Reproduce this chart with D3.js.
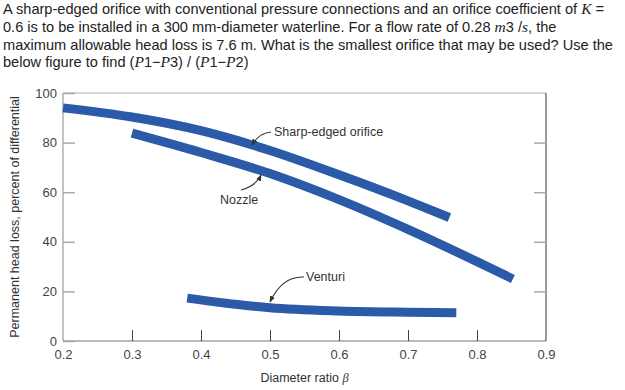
<!DOCTYPE html>
<html><head><meta charset="utf-8">
<script src="https://cdn.jsdelivr.net/npm/d3@7"></script>
<style>
body{margin:0;background:#fff;}
svg{display:block;font-family:"Liberation Sans",Arial,sans-serif;}
</style></head>
<body><svg id="c" width="625" height="390"></svg>
<script>
// ---- data ----
const xTicks = [0.2,0.3,0.4,0.5,0.6,0.7,0.8,0.9];
const xTickLabels = ["0.2","0.3","0.4","0.5","0.6","0.7","0.8","0.9"];
const yTicks = [0,20,40,60,80,100];
const sharpBeta = [0.2,0.3,0.4,0.5,0.6,0.7,0.76];
const sharpLoss = [94,90.3,84.8,76.8,67,56.5,49.8];
const nozzleBeta = [0.3,0.4,0.5,0.6,0.7,0.8,0.852];
const nozzleLoss = [83.8,76,67.5,57,45,32,25];
const venturiBeta = [0.38,0.45,0.5,0.6,0.7,0.77];
const venturiLoss = [17.3,14.8,13.4,12.1,11.6,11.4];

const svg = d3.select("#c");
const x = d3.scaleLinear().domain([0.2,0.9]).range([63,546]);
const y = d3.scaleLinear().domain([0,100]).range([341,93]);

// title text
const lines = [
  [["A sharp-edged orifice with conventional pressure connections and an orifice coefficient of ",0],["K",1],[" =",0]],
  [["0.6 is to be installed in a 300 mm-diameter waterline. For a flow rate of 0.28 ",0],["m",1],["3 /",0],["s",1],[", the",0]],
  [["maximum allowable head loss is 7.6 m. What is the smallest orifice that may be used? Use the",0]],
  [["below figure to find (",0],["P",1],["1−",0],["P",1],["3) / (",0],["P",1],["1−",0],["P",1],["2)",0]]
];
lines.forEach((ln,i)=>{
  const t = svg.append("text").attr("x",3).attr("y",14+i*17.8).attr("font-size",14.6).attr("fill","#222");
  ln.forEach(([s,it])=>{
    const ts = t.append("tspan").text(s);
    if(it) ts.attr("font-family","'Liberation Serif','DejaVu Serif',serif").attr("font-style","italic").attr("font-size",15.5);
  });
});

// frame lines
svg.append("line").attr("x1",x(0.2)).attr("x2",x(0.9)).attr("y1",y(100)).attr("y2",y(100)).attr("stroke","#aaa").attr("stroke-width",1);
svg.append("line").attr("x1",x(0.2)).attr("x2",x(0.2)).attr("y1",y(100)).attr("y2",y(0)).attr("stroke","#888").attr("stroke-width",1);
svg.append("line").attr("x1",x(0.2)).attr("x2",x(0.9)).attr("y1",y(0)).attr("y2",y(0)).attr("stroke","#777").attr("stroke-width",1);
svg.append("line").attr("x1",x(0.9)).attr("x2",x(0.9)).attr("y1",y(100)).attr("y2",y(0)).attr("stroke","#555").attr("stroke-width",1.2);

// axes
const gl = svg.append("g").attr("transform",`translate(${x(0.2)},0)`)
  .call(d3.axisLeft(y).tickValues(yTicks).tickSizeInner(-12).tickSizeOuter(0).tickPadding(6).tickFormat(d3.format("d")));
gl.select(".domain").remove();
gl.selectAll(".tick line").attr("stroke","#aaa").attr("stroke-width",1.5);
gl.selectAll(".tick text").attr("font-size",13).attr("fill","#444").attr("font-family","'Liberation Sans',Arial,sans-serif");

const gr = svg.append("g").attr("transform",`translate(${x(0.9)},0)`)
  .call(d3.axisRight(y).tickValues([20,40,60,80]).tickSizeInner(-12).tickSizeOuter(0).tickFormat(""));
gr.select(".domain").remove();
gr.selectAll(".tick line").attr("stroke","#aaa").attr("stroke-width",1.5);

const gb = svg.append("g").attr("transform",`translate(0,${y(0)})`)
  .call(d3.axisBottom(x).tickValues(xTicks).tickSizeInner(-11).tickSizeOuter(0).tickPadding(9).tickFormat((d,i)=>xTickLabels[i]));
gb.select(".domain").remove();
gb.selectAll(".tick line").attr("stroke","#444").attr("stroke-width",1);
gb.selectAll(".tick").filter(d=>d===0.2||d===0.9).select("line").remove();
gb.selectAll(".tick text").attr("font-size",13).attr("fill","#444").attr("font-family","'Liberation Sans',Arial,sans-serif");

// curves
const blue = "#2a5aa8";
const line = d3.line().x(d=>x(d[0])).y(d=>y(d[1])).curve(d3.curveMonotoneX);
function curve(bs,ls){
  svg.append("path").attr("d",line(bs.map((b,i)=>[b,ls[i]])))
    .attr("fill","none").attr("stroke",blue).attr("stroke-width",9).attr("stroke-linecap","butt");
}
curve(sharpBeta,sharpLoss);
curve(nozzleBeta,nozzleLoss);
curve(venturiBeta,venturiLoss);

// arrow marker
svg.append("defs").append("marker").attr("id","ah").attr("viewBox","0 0 10 10").attr("refX",9).attr("refY",5)
  .attr("markerWidth",6).attr("markerHeight",6).attr("orient","auto")
  .append("path").attr("d","M0,1 L10,5 L0,9 z").attr("fill","#333");

function leader(x0,y0,cx,cy,x1,y1){
  const p = d3.path(); p.moveTo(x0,y0); p.quadraticCurveTo(cx,cy,x1,y1);
  svg.append("path").attr("d",p.toString()).attr("fill","none").attr("stroke","#333").attr("stroke-width",1.1).attr("marker-end","url(#ah)");
}
// labels
svg.append("text").attr("x",274).attr("y",135.5).attr("font-size",12.5).attr("fill","#333").text("Sharp-edged orifice");
leader(271,132, 259,133, 252,145);
svg.append("text").attr("x",220).attr("y",204).attr("font-size",12.5).attr("fill","#333").text("Nozzle");
leader(241,190, 256,186, 261,175);
svg.append("text").attr("x",306).attr("y",281).attr("font-size",12.5).attr("fill","#333").text("Venturi");
leader(304,277, 282,276, 270,302);

// axis titles
svg.append("text").attr("transform",`translate(19,${y(50)}) rotate(-90)`).attr("text-anchor","middle")
  .attr("font-size",12.5).attr("fill","#333").text("Permanent head loss, percent of differential");
const xl = svg.append("text").attr("x",x(0.55)).attr("y",382).attr("text-anchor","middle").attr("font-size",12.5).attr("fill","#333");
xl.append("tspan").text("Diameter ratio ");
xl.append("tspan").attr("font-family","'Liberation Serif',serif").attr("font-style","italic").text("β");
</script></body></html>
